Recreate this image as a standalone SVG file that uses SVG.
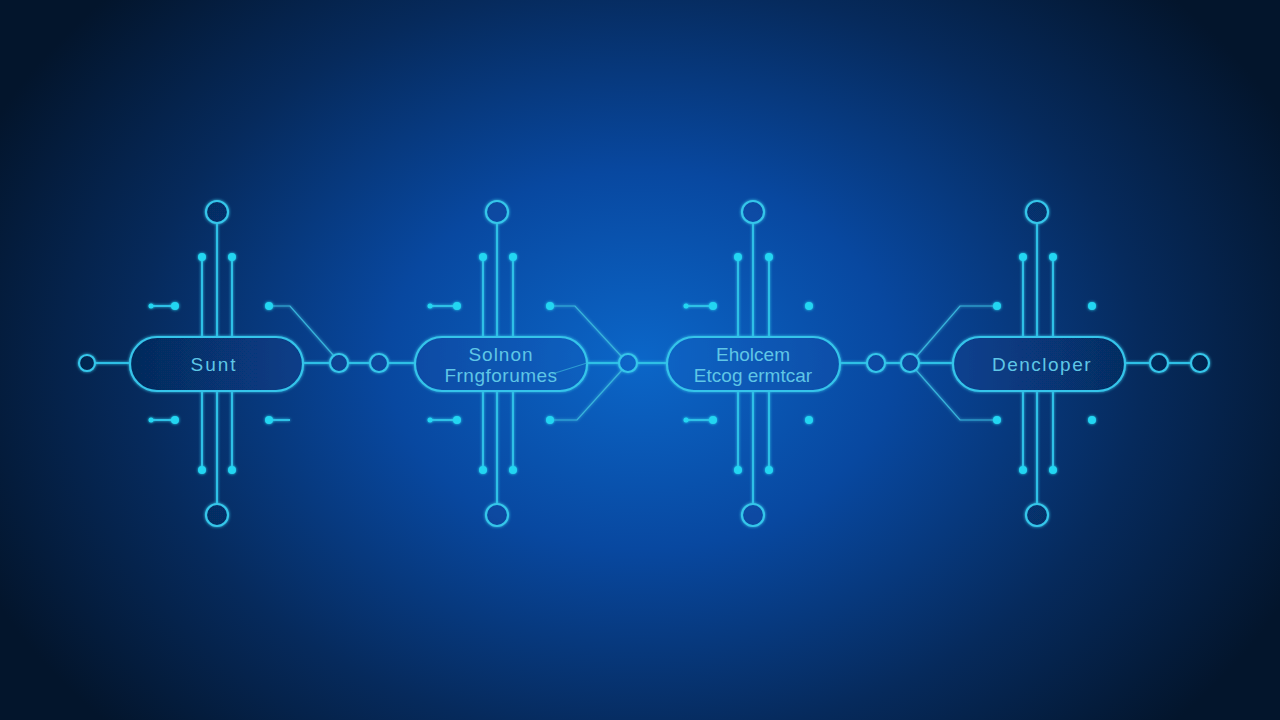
<svg xmlns="http://www.w3.org/2000/svg" width="1280" height="720" viewBox="0 0 1280 720">
<defs>
<radialGradient id="bg" gradientUnits="userSpaceOnUse" cx="640" cy="360" r="720" gradientTransform="translate(640 360) scale(1 0.75) translate(-640 -360)">
<stop offset="0" stop-color="#0b66c8"/>
<stop offset="0.35" stop-color="#0848a0"/>
<stop offset="0.7" stop-color="#062a5c"/>
<stop offset="1" stop-color="#03152c"/>
</radialGradient>
<filter id="glow" x="-20%" y="-20%" width="140%" height="140%">
<feGaussianBlur stdDeviation="1.6" result="b"/>
<feMerge><feMergeNode in="b"/><feMergeNode in="SourceGraphic"/></feMerge>
</filter>
</defs>
<style>
.ln{stroke:#2fc0e6;stroke-width:2;fill:none}
.thin{stroke:#39b5dc;stroke-width:1.2;fill:none}
.ring{stroke:#36c6ea;stroke-width:2.2;fill:url(#bg)}
.dot{fill:#22d6f2}
.sdot{fill:#22d6f2}
.pill{stroke:#35c4ea;stroke-width:2.2;fill:url(#bg)}
.tx{font-family:"Liberation Sans",Arial,sans-serif;font-size:19px;fill:#5fc6e6;text-anchor:middle}
</style>
<rect width="1280" height="720" fill="url(#bg)"/>
<g id="connectors" filter="url(#glow)">
<line class="ln" x1="95" y1="363" x2="130" y2="363"/>
<line class="ln" x1="303" y1="363" x2="331" y2="363"/>
<line class="ln" x1="348" y1="363" x2="371" y2="363"/>
<line class="ln" x1="388" y1="363" x2="415" y2="363"/>
<line class="ln" x1="587" y1="363" x2="619" y2="363"/>
<line class="ln" x1="637" y1="363" x2="667" y2="363"/>
<line class="ln" x1="840" y1="363" x2="867" y2="363"/>
<line class="ln" x1="885" y1="363" x2="901" y2="363"/>
<line class="ln" x1="919" y1="363" x2="953" y2="363"/>
<line class="ln" x1="1125" y1="363" x2="1150" y2="363"/>
<line class="ln" x1="1168" y1="363" x2="1191" y2="363"/>
<polyline class="thin" points="269,306 290,306 334,356"/>
<polyline class="thin" points="550,306 575,306 622,357"/>
<polyline class="thin" points="550,420 577,420 622,370"/>
<polyline class="thin" points="997,306 960,306 916,357"/>
<polyline class="thin" points="997,420 960,420 916,370"/>
<line class="ln" x1="151" y1="306" x2="175" y2="306"/>
<line class="ln" x1="151" y1="420" x2="175" y2="420"/>
<line class="ln" x1="269" y1="420" x2="290" y2="420"/>
<line class="ln" x1="430" y1="306" x2="457" y2="306"/>
<line class="ln" x1="430" y1="420" x2="457" y2="420"/>
<line class="ln" x1="686" y1="306" x2="713" y2="306"/>
<line class="ln" x1="686" y1="420" x2="713" y2="420"/>
<line class="ln" x1="217" y1="223" x2="217" y2="504"/>
<line class="ln" x1="202" y1="257" x2="202" y2="470"/>
<line class="ln" x1="232" y1="257" x2="232" y2="470"/>
<line class="ln" x1="497" y1="223" x2="497" y2="504"/>
<line class="ln" x1="483" y1="257" x2="483" y2="470"/>
<line class="ln" x1="513" y1="257" x2="513" y2="470"/>
<line class="ln" x1="753" y1="223" x2="753" y2="504"/>
<line class="ln" x1="738" y1="257" x2="738" y2="470"/>
<line class="ln" x1="769" y1="257" x2="769" y2="470"/>
<line class="ln" x1="1037" y1="223" x2="1037" y2="504"/>
<line class="ln" x1="1023" y1="257" x2="1023" y2="470"/>
<line class="ln" x1="1053" y1="257" x2="1053" y2="470"/>
</g>
<g id="junctions" filter="url(#glow)">
<circle class="ring" cx="87" cy="363" r="8"/>
<circle class="ring" cx="339" cy="363" r="9"/>
<circle class="ring" cx="379" cy="363" r="9"/>
<circle class="ring" cx="628" cy="363" r="9"/>
<circle class="ring" cx="876" cy="363" r="9"/>
<circle class="ring" cx="910" cy="363" r="9"/>
<circle class="ring" cx="1159" cy="363" r="9"/>
<circle class="ring" cx="1200" cy="363" r="9"/>
<circle class="ring" cx="217" cy="212" r="11"/>
<circle class="ring" cx="217" cy="515" r="11"/>
<circle class="ring" cx="497" cy="212" r="11"/>
<circle class="ring" cx="497" cy="515" r="11"/>
<circle class="ring" cx="753" cy="212" r="11"/>
<circle class="ring" cx="753" cy="515" r="11"/>
<circle class="ring" cx="1037" cy="212" r="11"/>
<circle class="ring" cx="1037" cy="515" r="11"/>
</g>
<g id="dots" filter="url(#glow)">
<circle class="dot" cx="202" cy="257" r="4"/><circle class="dot" cx="232" cy="257" r="4"/>
<circle class="dot" cx="202" cy="470" r="4"/><circle class="dot" cx="232" cy="470" r="4"/>
<circle class="sdot" cx="151" cy="306" r="2.5"/><circle class="dot" cx="175" cy="306" r="4"/>
<circle class="sdot" cx="151" cy="420" r="2.5"/><circle class="dot" cx="175" cy="420" r="4"/>
<circle class="dot" cx="269" cy="306" r="4"/><circle class="dot" cx="269" cy="420" r="4"/>
<circle class="dot" cx="483" cy="257" r="4"/><circle class="dot" cx="513" cy="257" r="4"/>
<circle class="dot" cx="483" cy="470" r="4"/><circle class="dot" cx="513" cy="470" r="4"/>
<circle class="sdot" cx="430" cy="306" r="2.5"/><circle class="dot" cx="457" cy="306" r="4"/>
<circle class="sdot" cx="430" cy="420" r="2.5"/><circle class="dot" cx="457" cy="420" r="4"/>
<circle class="dot" cx="550" cy="306" r="4"/><circle class="dot" cx="550" cy="420" r="4"/>
<circle class="dot" cx="738" cy="257" r="4"/><circle class="dot" cx="769" cy="257" r="4"/>
<circle class="dot" cx="738" cy="470" r="4"/><circle class="dot" cx="769" cy="470" r="4"/>
<circle class="sdot" cx="686" cy="306" r="2.5"/><circle class="dot" cx="713" cy="306" r="4"/>
<circle class="sdot" cx="686" cy="420" r="2.5"/><circle class="dot" cx="713" cy="420" r="4"/>
<circle class="dot" cx="809" cy="306" r="4"/><circle class="dot" cx="809" cy="420" r="4"/>
<circle class="dot" cx="1023" cy="257" r="4"/><circle class="dot" cx="1053" cy="257" r="4"/>
<circle class="dot" cx="1023" cy="470" r="4"/><circle class="dot" cx="1053" cy="470" r="4"/>
<circle class="dot" cx="997" cy="306" r="4"/><circle class="dot" cx="997" cy="420" r="4"/>
<circle class="dot" cx="1092" cy="306" r="4"/><circle class="dot" cx="1092" cy="420" r="4"/>
</g>
<g id="node-sunt">
<rect class="pill" x="130" y="337" width="173" height="54" rx="27" filter="url(#glow)"/>
<text class="tx" x="214" y="371" font-size="21" letter-spacing="2">Sunt</text>
</g>
<g id="node-solnon">
<rect class="pill" x="415" y="337" width="172" height="54" rx="27" filter="url(#glow)"/>
<text class="tx" x="501" y="361" letter-spacing="1">Solnon</text>
<text class="tx" x="501" y="382" letter-spacing="0.5">Frngforumes</text>
<line class="thin" x1="587" y1="363" x2="552" y2="374" opacity="0.7"/>
</g>
<g id="node-eholcem">
<rect class="pill" x="667" y="337" width="173" height="54" rx="27" filter="url(#glow)"/>
<text class="tx" x="753" y="361">Eholcem</text>
<text class="tx" x="753" y="382">Etcog ermtcar</text>
</g>
<g id="node-dencloper">
<rect class="pill" x="953" y="337" width="172" height="54" rx="27" filter="url(#glow)"/>
<text class="tx" x="1042" y="371" font-size="21" letter-spacing="1.5">Dencloper</text>
</g>
</svg>
